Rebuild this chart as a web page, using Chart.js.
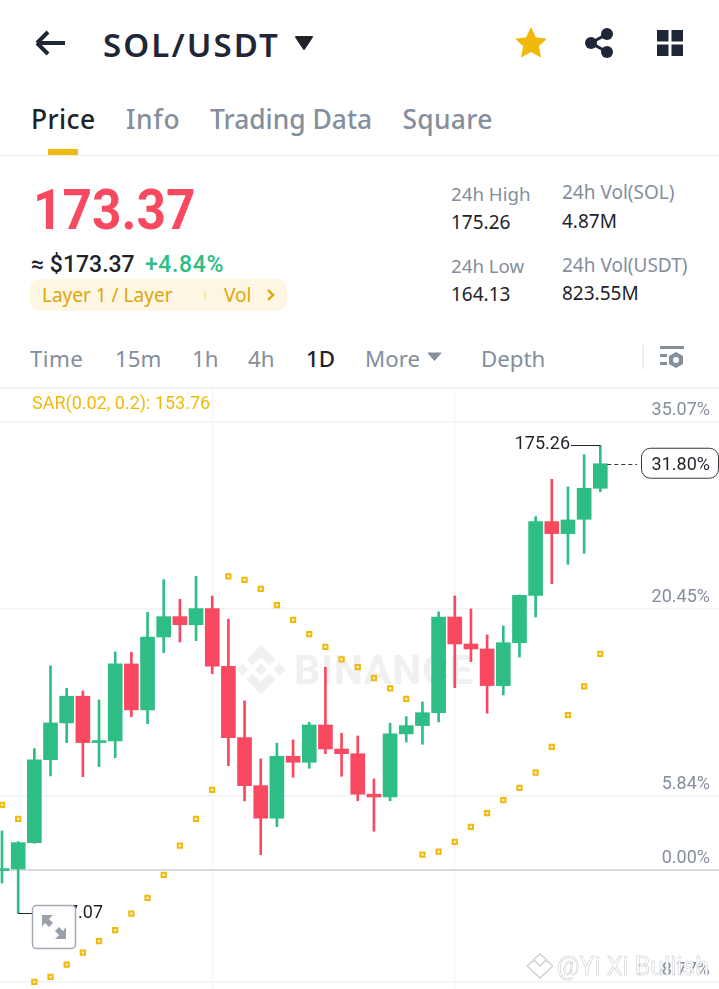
<!DOCTYPE html>
<html><head><meta charset="utf-8">
<script src="https://cdn.jsdelivr.net/npm/chart.js@4/dist/chart.umd.min.js"></script>
<style>
html,body{margin:0;padding:0;background:#fff;width:719px;height:989px;overflow:hidden}
.t{position:absolute;white-space:nowrap;line-height:1;font-family:"Noto Sans",sans-serif;transform:translateY(-50%)}
.g{color:#848E9C}.d{color:#1E2329}
svg{position:absolute;left:0;top:0}
canvas{position:absolute;left:0;top:388px}
</style></head><body>
<svg width="719" height="989" style="z-index:0">
  <path d="M37 43H65M37 43L48 32M37 43L48 54" stroke="#1E2637" stroke-width="4" fill="none"/>
  <path d="M296 37H312L304 49Z" fill="#1E2329" stroke="#1E2329" stroke-width="2" stroke-linejoin="round"/>
  <path d="M531 28l4.6 9.800 10.400 1.300-7.700 7.100 2.100 10.600-9.400-5.300-9.400 5.300 2.100-10.600-7.700-7.100 10.400-1.300z" fill="#F0B90B" stroke="#F0B90B" stroke-linejoin="round"/>
  <g fill="#1E2637"><circle cx="607" cy="34" r="6"/><circle cx="591" cy="43" r="6"/><circle cx="607" cy="52" r="6"/></g>
  <path d="M607 34L591 43L607 52" stroke="#1E2637" stroke-width="3" fill="none"/>
  <g fill="#1E2637"><rect x="657" y="30" width="11.500" height="11.500"/><rect x="671.500" y="30" width="11.500" height="11.500"/><rect x="657" y="44.500" width="11.500" height="11.500"/><rect x="671.500" y="44.500" width="11.500" height="11.500"/></g>
  <rect x="48" y="149" width="30" height="6" fill="#F0B90B"/>
  <rect x="0" y="155" width="719" height="1" fill="#EAECEF"/>
  <rect x="30" y="279" width="257" height="32" rx="10" fill="#FDF6E3"/>
  <rect x="204" y="291" width="1.500" height="8" fill="#F3DFA2"/>
  <path d="M268 290l5 5-5 5" stroke="#E0A50B" stroke-width="2.400" fill="none"/>
  <path d="M428 353H441L434.500 360.500Z" fill="#848E9C" stroke="#848E9C" stroke-linejoin="round"/>
  <rect x="642.500" y="345" width="1.500" height="24" fill="#E6E8EA"/>
  <g fill="#848E9C"><rect x="660" y="346" width="24" height="3"/><rect x="660" y="354" width="7" height="3"/><rect x="660" y="362" width="7" height="3"/>
  <path d="M676 352l7 4v8l-7 4-7-4v-8z"/></g><circle cx="676" cy="360" r="3" fill="#fff"/>
  <rect x="0" y="387" width="719" height="2" fill="#F2F3F5"/>
  <g fill="#EFF0F1" transform="translate(261 669.500)"><path d="M0-24.500L14.500-10 8.500-4 0-12.500-8.500-4-14.500-10Z"/><path d="M0 24.500L14.500 10 8.500 4 0 12.500-8.500 4-14.500 10Z"/><path d="M-24.500 0L-18.500-6-12.500 0-18.500 6Z"/><path d="M24.500 0L18.500-6 12.500 0 18.500 6Z"/><path d="M0-6L6 0 0 6-6 0Z"/></g>
</svg>
<div class="t" style="left:294px;top:670px;font-size:41px;font-weight:700;letter-spacing:.8px;color:#EFF0F1;font-family:Roboto">BINANCE</div>
<div class="t" style="left:103px;top:44px;font-size:33px;font-weight:600;letter-spacing:2.1px;color:#1E2637">SOL/USDT</div>
<div class="t d" style="left:31px;top:118.500px;font-size:26.400px;font-weight:500;letter-spacing:.4px">Price</div>
<div class="t g" style="left:126px;top:118.500px;font-size:26.400px;font-weight:500;letter-spacing:.7px">Info</div>
<div class="t g" style="left:210px;top:118.500px;font-size:26.400px;font-weight:500">Trading Data</div>
<div class="t g" style="left:402.500px;top:118.500px;font-size:26.400px;font-weight:500;letter-spacing:.3px">Square</div>
<div class="t" style="left:33px;top:210px;font-size:55px;font-weight:700;color:#F84960;font-family:Roboto;transform-origin:0 0;transform:translateY(-50%) scaleX(.935)">173.37</div>
<div class="t d" style="left:31px;top:264px;font-size:23px;font-weight:500;font-family:Roboto">≈ $173.37</div>
<div class="t" style="left:145px;top:264px;font-size:23px;font-weight:500;color:#2EBD85;font-family:Roboto;letter-spacing:.6px">+4.84%</div>
<div class="t" style="left:42px;top:295px;font-size:19px;color:#E0A50B">Layer 1 / Layer</div>
<div class="t" style="left:224px;top:295px;font-size:19px;color:#E0A50B">Vol</div>
<div class="t g" style="left:451px;top:194px;font-size:18.700px">24h High</div>
<div class="t d" style="left:451px;top:222px;font-size:19px">175.26</div>
<div class="t g" style="left:451px;top:266px;font-size:18.700px">24h Low</div>
<div class="t d" style="left:451px;top:294px;font-size:19px">164.13</div>
<div class="t g" style="left:562px;top:192px;font-size:19px">24h Vol(SOL)</div>
<div class="t d" style="left:562px;top:221px;font-size:19px">4.87M</div>
<div class="t g" style="left:562px;top:265px;font-size:19px">24h Vol(USDT)</div>
<div class="t d" style="left:562px;top:293px;font-size:19px">823.55M</div>
<div class="t g" style="left:30px;top:358.500px;font-size:22.300px;letter-spacing:.4px">Time</div>
<div class="t g" style="left:115px;top:358.500px;font-size:22.300px">15m</div>
<div class="t g" style="left:192px;top:358.500px;font-size:22.300px">1h</div>
<div class="t g" style="left:248px;top:358.500px;font-size:22.300px">4h</div>
<div class="t d" style="left:306px;top:358.500px;font-size:22.300px;font-weight:500">1D</div>
<div class="t g" style="left:365px;top:358.500px;font-size:22.300px">More</div>
<div class="t g" style="left:481px;top:358.500px;font-size:22.300px">Depth</div>
<canvas id="c" width="719" height="601" style="z-index:1"></canvas>
<div class="t" style="z-index:2;left:32px;top:403px;font-size:18px;color:#F0B90B;font-family:Roboto">SAR(0.02, 0.2): 153.76</div>
<svg width="719" height="989" style="z-index:3;pointer-events:none">
  <rect x="32.500" y="905.500" width="43" height="43" rx="4" fill="#fff" stroke="#A3AAB4" stroke-width="1.500"/>
  <path d="M42 915h11l-4 4 4 4-4 4-4-4-3 4zM66 939H55l4-4-4-4 4-4 4 4 3-4z" fill="#9AA1AC"/>
</svg>
<div class="t" style="z-index:4;left:557px;top:966px;font-size:25px;color:#fff;font-family:Roboto;-webkit-text-stroke:.5px #C2C6CB">@Yi Xi Bullish</div>
<svg width="719" height="989" style="z-index:4;pointer-events:none">
  <path d="M527 966l7-6 6 6 6-6 7 6M533 960l7-6 7 6M527 966l13 12 13-12" fill="none" stroke="#CDD0D4" stroke-width="1.500"/>
</svg>
<script>
const indices=[0,1,2,3,4,5,6,7,8,9,10,11,12,13,14,15,16,17,18,19,20,21,22,23,24,25,26,27,28,29,30,31,32,33,34,35,36,37];
const opens=[-0.05,0,2.14,8.63,11.51,13.60,9.97,10.10,16.13,12.53,18.24,19.83,19.20,20.46,15.95,10.36,6.60,4.05,8.90,8.43,11.35,9.47,9.10,5.93,5.71,10.65,11.30,12.31,19.80,17.69,17.30,14.43,17.79,21.50,27.27,26.33,27.45,29.88];
const closes=[0.05,2.14,8.63,11.51,13.60,9.97,10.12,16.13,12.53,18.24,19.83,19.20,20.46,15.95,10.36,6.60,4.05,8.90,8.43,11.35,9.47,9.10,5.93,5.71,10.65,11.30,12.31,19.80,17.69,17.30,14.43,17.79,21.50,27.27,26.33,27.40,29.88,31.80];
const highs=[3.05,2.22,9.50,15.97,14.22,14.01,13.31,17.07,17.04,20.17,22.73,21.19,22.99,21.45,19.63,13.23,8.69,9.92,10.18,11.56,15.87,10.70,10.49,7.12,11.48,12.00,13.15,20.20,21.45,20.43,18.40,19.10,21.53,27.66,30.58,29.98,32.51,33.24];
const lows=[-1.02,-3.40,2.09,7.36,9.97,7.30,8.09,8.79,12.00,11.45,17.01,17.85,17.95,15.37,8.16,5.40,1.20,3.39,7.26,7.96,9.10,7.33,5.42,3.03,5.42,10.02,9.84,11.59,14.27,16.31,12.27,13.70,16.67,19.80,22.41,23.93,24.79,29.61];
const sar=[5.09,3.99,-8.77,-8.38,-7.41,-6.47,-5.58,-4.72,-3.42,-2.19,-0.39,1.90,3.99,6.26,22.99,22.70,22.00,20.74,19.57,18.47,17.46,16.49,15.87,15.01,14.22,13.39,1.20,1.43,2.19,3.37,4.44,5.46,6.42,7.62,9.63,12.13,14.38,16.91];
const yTicks=[35.07,20.45,5.84,0,-8.77];
const yTickLabels=["35.07%","20.45%","5.84%","0.00%","8.77%"];
const xGridAt=[13,28];
const highLabel="175.26", lowLabel="127.07", lastLabel="31.80%";
const GREEN="#2EBD85", RED="#F84960";
const col=indices.map((_,i)=>closes[i]>=opens[i]?GREEN:RED);

const marks={id:'marks',afterDatasetsDraw(ch){
  const {ctx,scales:{x,y}}=ch;
  const last=indices.length-1;
  ctx.save();
  ctx.textBaseline='middle';
  ctx.font='18px Roboto';ctx.fillStyle='#848E9C';ctx.textAlign='right';
  y.ticks.forEach((t,i)=>ctx.fillText(yTickLabels[i],710,y.getPixelForValue(t.value)-11));
  ctx.fillStyle='#1E2329';
  const hx=x.getPixelForValue(last),hy=y.getPixelForValue(highs[last]);
  ctx.fillText(highLabel,570,hy-1);
  ctx.strokeStyle='#1E2329';ctx.lineWidth=1;ctx.beginPath();ctx.moveTo(571,Math.round(hy)+.5);ctx.lineTo(hx,Math.round(hy)+.5);ctx.stroke();
  const lx=x.getPixelForValue(1),ly=y.getPixelForValue(lows[1]);
  ctx.beginPath();ctx.moveTo(lx,Math.round(ly)+.5);ctx.lineTo(45,Math.round(ly)+.5);ctx.stroke();
  ctx.fillText(lowLabel,103,ly);
  const cy=y.getPixelForValue(closes[last]);
  ctx.setLineDash([4,3]);ctx.strokeStyle='#333A45';ctx.beginPath();ctx.moveTo(x.getPixelForValue(last)+7,Math.round(cy)+.5);ctx.lineTo(637,Math.round(cy)+.5);ctx.stroke();ctx.setLineDash([]);
  ctx.beginPath();ctx.roundRect(641.5,cy-15.5,77,30,9);ctx.fillStyle='#fff';ctx.fill();ctx.strokeStyle='#333A45';ctx.stroke();
  ctx.fillStyle='#1E2329';ctx.fillText(lastLabel,710,cy+1.5);
  ctx.restore();
}};

new Chart(document.getElementById('c'),{
  type:'bar',
  data:{datasets:[
    {type:'line',label:'SAR',order:0,data:indices.map((v,i)=>({x:v,y:sar[i]})),showLine:false,pointStyle:'rect',pointRadius:3,pointBorderWidth:2,pointBackgroundColor:'#FFF6D5',pointBorderColor:'#F0B90B',clip:false},
    {label:'body',order:1,grouped:false,barThickness:14,data:indices.map((v,i)=>({x:v,y:[opens[i],closes[i]]})),backgroundColor:col,minBarLength:2},
    {label:'wick',order:2,grouped:false,barThickness:2,data:indices.map((v,i)=>({x:v,y:[lows[i],highs[i]]})),backgroundColor:col}
  ]},
  plugins:[marks],
  options:{
    responsive:false,animation:false,devicePixelRatio:1,
    layout:{padding:0,autoPadding:false},
    plugins:{legend:{display:false},tooltip:{enabled:false}},
    scales:{
      x:{type:'linear',min:-0.124,max:44.34,offset:false,
        afterBuildTicks(s){s.ticks=xGridAt.map(v=>({value:v}));},
        ticks:{display:false},border:{display:false},
        grid:{offset:false,color:'#F2F3F5',lineWidth:1,drawTicks:false}},
      y:{type:'linear',position:'right',min:-9.32,max:37.73,
        afterBuildTicks(s){s.ticks=yTicks.map(v=>({value:v}));},
        ticks:{display:false},
        border:{display:false},
        grid:{drawTicks:false,color:c=>c.tick&&c.tick.value===0?'#D8DCE1':'#F0F1F3',lineWidth:c=>c.tick&&c.tick.value===0?2:1.5}}
    }
  }
});
</script>
</body></html>
